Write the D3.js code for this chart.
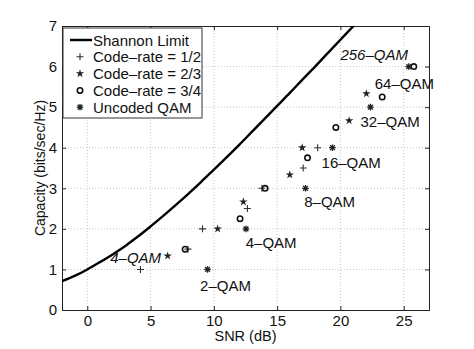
<!DOCTYPE html>
<html>
<head>
<meta charset="utf-8">
<script src="https://cdn.jsdelivr.net/npm/d3@7"></script>
<style>
  body { margin: 0; background: #fff; }
  svg { display: block; font-family: "Liberation Sans", Arial, Helvetica, sans-serif; }
</style>
</head>
<body>
<div id="chart"></div>
<script>
// Shannon limit, read at 1 dB steps
let limitSnr = [-2, -1, 0, 1, 2, 3, 4, 5, 6, 7, 8, 9, 10, 11, 12, 13, 14, 15, 16, 17, 18, 19, 20, 21, 21.5];
let limitCap = [0.71, 0.84, 1.0, 1.18, 1.37, 1.58, 1.81, 2.06, 2.32, 2.59, 2.87, 3.16, 3.46, 3.76, 4.07, 4.39, 4.71, 5.03, 5.35, 5.68, 6.0, 6.33, 6.66, 6.99, 7.15];

// coded QAM operating points
let rate12Snr = [4.2, 7.95, 9.1, 12.65, 13.8, 17.06, 18.2];
let rate12Cap = [1, 1.5, 2, 2.5, 3, 3.5, 4];
let rate23Snr = [6.35, 10.3, 12.33, 16.0, 16.98, 20.69, 22.05];
let rate23Cap = [1.333, 2, 2.667, 3.333, 4, 4.667, 5.333];
let rate34Snr = [7.73, 12.07, 14.05, 17.4, 19.64, 23.3, 25.8];
let rate34Cap = [1.5, 2.25, 3, 3.75, 4.5, 5.25, 6];
let uncodedSnr = [9.5, 12.54, 17.24, 19.37, 22.37, 25.4];
let uncodedCap = [1, 2, 3, 4, 5, 6];

let xTicks = [0, 5, 10, 15, 20, 25];
let yTicks = [0, 1, 2, 3, 4, 5, 6, 7];

let legendNames = ["Shannon Limit", "Code\u2013rate = 1/2", "Code\u2013rate = 2/3", "Code\u2013rate = 3/4", "Uncoded QAM"];

// constellation annotations (anchored in data units)
let qamNames = ["4\u2013QAM", "2\u2013QAM", "4\u2013QAM", "8\u2013QAM", "16\u2013QAM", "32\u2013QAM", "64\u2013QAM", "256\u2013QAM"];
let qamSnr = [1.81, 8.91, 12.52, 17.14, 18.51, 21.59, 22.71, 20.0];
let qamCap = [1.16, 0.47, 1.53, 2.54, 3.5, 4.51, 5.45, 6.16];
let qamItalic = [true, false, false, false, false, false, false, true];

let width = 474, height = 349;
let margin = { top: 26, right: 45, bottom: 39, left: 62 };

let svg = d3.select("#chart").append("svg")
    .attr("width", width)
    .attr("height", height);

let x = d3.scaleLinear().domain([-2, 27]).range([margin.left, width - margin.right]);
let y = d3.scaleLinear().domain([0, 7]).range([height - margin.bottom, margin.top]);

// dotted grid
let grid = svg.append("g").attr("stroke", "#c8c8c8").attr("stroke-dasharray", "1,2").attr("stroke-width", 1);
xTicks.forEach(function(t) {
    grid.append("line").attr("x1", x(t)).attr("x2", x(t)).attr("y1", y(0)).attr("y2", y(7));
});
yTicks.slice(1, -1).forEach(function(t) {
    grid.append("line").attr("x1", x(-2)).attr("x2", x(27)).attr("y1", y(t)).attr("y2", y(t));
});

// axes, ticks pointing inward on all four sides
let tl = 4;
svg.append("g").attr("transform", "translate(0," + y(0) + ")")
    .call(d3.axisBottom(x).tickValues(xTicks).tickSize(-tl).tickPadding(5).tickFormat(d3.format("d")));
svg.append("g").attr("transform", "translate(0," + y(7) + ")")
    .call(d3.axisTop(x).tickValues(xTicks).tickSize(-tl).tickFormat(""));
svg.append("g").attr("transform", "translate(" + x(-2) + ",0)")
    .call(d3.axisLeft(y).tickValues(yTicks).tickSize(-tl).tickPadding(5).tickFormat(d3.format("d")));
svg.append("g").attr("transform", "translate(" + x(27) + ",0)")
    .call(d3.axisRight(y).tickValues(yTicks).tickSize(-tl).tickFormat(""));

svg.selectAll(".domain").attr("stroke", "#222").attr("stroke-width", 1);
svg.selectAll(".tick line").attr("stroke", "#222");
svg.selectAll(".tick text").attr("font-size", "15px").attr("fill", "#111")
    .attr("font-family", "Liberation Sans, Arial, sans-serif");

// axis titles
svg.append("text")
    .attr("x", x(12.5)).attr("y", 341)
    .attr("text-anchor", "middle").attr("font-size", "14.5px").attr("fill", "#111")
    .text("SNR (dB)");
svg.append("text")
    .attr("transform", "translate(45," + y(3.5) + ") rotate(-90)")
    .attr("text-anchor", "middle").attr("font-size", "14px").attr("fill", "#111")
    .text("Capacity (bits/sec/Hz)");

svg.append("clipPath").attr("id", "plotClip").append("rect")
    .attr("x", x(-2)).attr("y", y(7)).attr("width", x(27) - x(-2)).attr("height", y(0) - y(7));

// Shannon capacity curve
let limit = d3.zip(limitSnr, limitCap);
svg.append("path")
    .datum(limit)
    .attr("clip-path", "url(#plotClip)")
    .attr("fill", "none")
    .attr("stroke", "#000")
    .attr("stroke-width", 2.4)
    .attr("d", d3.line().x(function(d) { return x(d[0]); }).y(function(d) { return y(d[1]); }).curve(d3.curveCatmullRom));

// marker painters
function plus(g) {
    g.append("path").attr("d", "M-3.5,0H3.5M0,-3.5V3.5").attr("stroke", "#333").attr("stroke-width", 1.1).attr("fill", "none");
}
function star(g) {
    g.append("path").attr("d", d3.symbol(d3.symbolStar, 22)()).attr("fill", "#222");
}
function ring(g) {
    g.append("circle").attr("r", 2.7).attr("fill", "none").attr("stroke", "#111").attr("stroke-width", 1.6);
}
function asterisk(g) {
    g.append("path").attr("d", "M-3.3,0H3.3M0,-3.3V3.3M-2.4,-2.4L2.4,2.4M-2.4,2.4L2.4,-2.4")
        .attr("stroke", "#222").attr("stroke-width", 1.3).attr("fill", "none");
}

function drawSeries(snr, cap, painter) {
    d3.zip(snr, cap).forEach(function(d) {
        let g = svg.append("g").attr("transform", "translate(" + x(d[0]) + "," + y(d[1]) + ")");
        painter(g);
    });
}
drawSeries(rate12Snr, rate12Cap, plus);
drawSeries(rate23Snr, rate23Cap, star);
drawSeries(rate34Snr, rate34Cap, ring);
drawSeries(uncodedSnr, uncodedCap, asterisk);

// annotations
qamNames.forEach(function(name, i) {
    svg.append("text")
        .attr("x", x(qamSnr[i])).attr("y", y(qamCap[i]))
        .attr("font-size", "15px")
        .attr("font-style", qamItalic[i] ? "italic" : "normal")
        .attr("fill", "#111")
        .text(name);
});

// legend
let legend = svg.append("g").attr("transform", "translate(63,28)");
legend.append("rect").attr("width", 139).attr("height", 90)
    .attr("fill", "#fff").attr("stroke", "#333").attr("stroke-width", 1);
let painters = [null, plus, star, ring, asterisk];
legendNames.forEach(function(name, i) {
    let cy = 12 + i * 16.8;
    if (i == 0) {
        legend.append("line").attr("x1", 7).attr("x2", 29).attr("y1", cy).attr("y2", cy)
            .attr("stroke", "#000").attr("stroke-width", 2.4);
    } else {
        let g = legend.append("g").attr("transform", "translate(17," + cy + ")");
        painters[i](g);
    }
    legend.append("text").attr("x", 30).attr("y", cy + 5.5)
        .attr("font-size", "15px").attr("fill", "#111")
        .text(name);
});
</script>
</body>
</html>
